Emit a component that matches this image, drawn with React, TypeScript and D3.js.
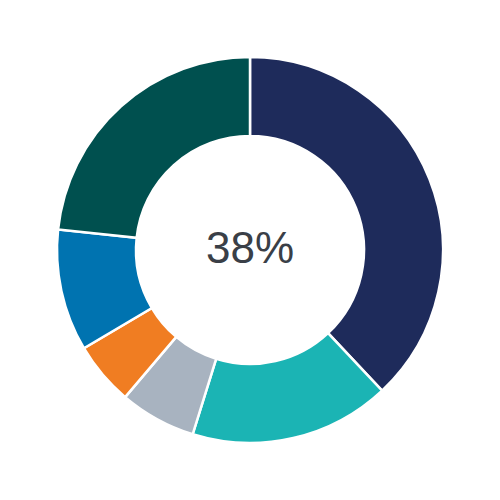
import React from "react";
import * as d3 from "d3";

const categories = ["Navy", "Teal", "Gray", "Orange", "Blue", "Green"];
const values = [38, 16.8, 6.4, 5.3, 10.2, 23.3];
const colors = ["#1e2b5b", "#1bb4b4", "#a8b3c0", "#f07d22", "#0073b0", "#00504f"];
const centerLabel = "38%";

export default function App() {
  const width = 500;
  const height = 500;
  const cx = 250;
  const cy = 250;
  const outer = 193;
  const inner = 114;
  const pie = d3.pie<number>().sort(null).value((d) => d);
  const arcs = pie(values);
  const arc = d3.arc<d3.PieArcDatum<number>>().innerRadius(inner).outerRadius(outer);
  return (
    <svg width={width} height={height} style={{ position: "absolute", left: 0, top: 0 }}>
      <rect width={width} height={height} fill="#ffffff" />
      <g transform={`translate(${cx},${cy})`}>
        {arcs.map((a, i) => (
          <path key={categories[i]} d={arc(a) || ""} fill={colors[i]} stroke="#ffffff" strokeWidth={2.5} strokeLinejoin="miter" />
        ))}
        <text x={0} y={13} textAnchor="middle" fontFamily="'Liberation Sans', Arial, sans-serif" fontSize={44} fill="#3a3f47">
          {centerLabel}
        </text>
      </g>
    </svg>
  );
}
